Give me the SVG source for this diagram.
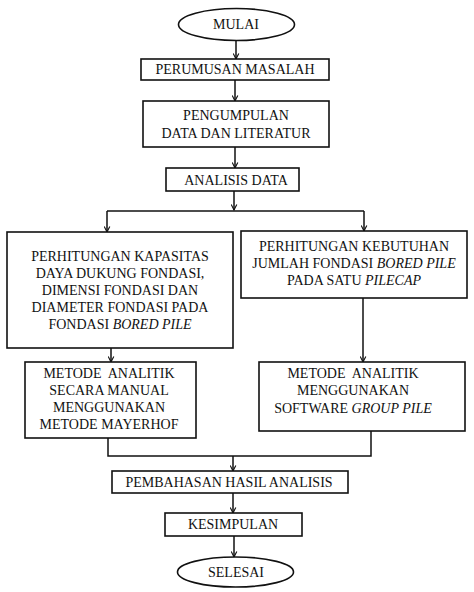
<svg xmlns="http://www.w3.org/2000/svg" width="474" height="592" viewBox="0 0 474 592">
<defs>
<marker id="arr" viewBox="0 0 10 10" refX="9" refY="5" markerWidth="7" markerHeight="7" orient="auto" markerUnits="userSpaceOnUse">
<path d="M1,1 L9,5 L1,9" fill="none" stroke="#111" stroke-width="1.6"/>
</marker>
</defs>
<style>
.box{fill:#fff;stroke:#111;stroke-width:1.6}
text{font-family:'Liberation Serif','DejaVu Serif',serif;font-size:14px;fill:#111;text-anchor:middle}
.pre{white-space:pre}
.it{font-style:italic}
#connectors path{fill:none;stroke:#111;stroke-width:1.5}
.a{marker-end:url(#arr)}
</style>
<rect x="0" y="0" width="474" height="592" fill="#fff"/>
<g id="connectors">
<path class="a" d="M236,41 V59"/>
<path class="a" d="M235,80 V101"/>
<path class="a" d="M235,147 V168"/>
<path class="a" d="M234,191 V210"/>
<path d="M107,211 H364"/>
<path class="a" d="M107,211 V232"/>
<path class="a" d="M364,211 V231"/>
<path class="a" d="M111,348 V362"/>
<path class="a" d="M363,298 V362"/>
<path d="M108,438 V456 H371 V431"/>
<path class="a" d="M233,456 V471"/>
<path class="a" d="M233,493 V513"/>
<path class="a" d="M234,536 V557"/>
</g>
<g id="mulai">
<ellipse class="box" cx="236.5" cy="24.5" rx="58" ry="16"/>
<text x="236" y="29" font-family="Liberation Serif, serif">MULAI</text>
</g>
<g id="perumusan">
<rect class="box" x="141" y="59" width="188" height="21"/>
<text x="235" y="74">PERUMUSAN MASALAH</text>
</g>
<g id="pengumpulan">
<rect class="box" x="143" y="101" width="186" height="46"/>
<text x="236" y="120">PENGUMPULAN</text>
<text x="236" y="138">DATA DAN LITERATUR</text>
</g>
<g id="analisis">
<rect class="box" x="166" y="168" width="133" height="23"/>
<text x="236" y="185">ANALISIS DATA</text>
</g>
<g id="perhitungan-kapasitas">
<rect class="box" x="7" y="232" width="226" height="116"/>
<text x="120" y="261">PERHITUNGAN KAPASITAS</text>
<text x="120" y="278">DAYA DUKUNG FONDASI,</text>
<text x="120" y="295">DIMENSI FONDASI DAN</text>
<text x="120" y="312">DIAMETER FONDASI PADA</text>
<text x="120" y="329">FONDASI <tspan class="it">BORED PILE</tspan></text>
</g>
<g id="perhitungan-kebutuhan">
<rect class="box" x="241" y="231" width="226" height="67"/>
<text x="354" y="251">PERHITUNGAN KEBUTUHAN</text>
<text x="354" y="268">JUMLAH FONDASI <tspan class="it">BORED PILE</tspan></text>
<text x="354" y="285">PADA SATU <tspan class="it">PILECAP</tspan></text>
</g>
<g id="metode-manual">
<rect class="box" x="25" y="362" width="171" height="76"/>
<text class="pre" x="109" y="378">METODE  ANALITIK</text>
<text x="109" y="395">SECARA MANUAL</text>
<text x="109" y="412">MENGGUNAKAN</text>
<text x="109" y="429">METODE MAYERHOF</text>
</g>
<g id="metode-software">
<rect class="box" x="259" y="362" width="206" height="69"/>
<text class="pre" x="353" y="378">METODE  ANALITIK</text>
<text x="353" y="395">MENGGUNAKAN</text>
<text x="353" y="413">SOFTWARE <tspan class="it">GROUP PILE</tspan></text>
</g>
<g id="pembahasan">
<rect class="box" x="112" y="471" width="236" height="22"/>
<text x="229" y="487">PEMBAHASAN HASIL ANALISIS</text>
</g>
<g id="kesimpulan">
<rect class="box" x="165" y="513" width="137" height="23"/>
<text x="233" y="529">KESIMPULAN</text>
</g>
<g id="selesai">
<ellipse class="box" cx="235.5" cy="572" rx="58" ry="15"/>
<text x="236" y="577">SELESAI</text>
</g>
</svg>
